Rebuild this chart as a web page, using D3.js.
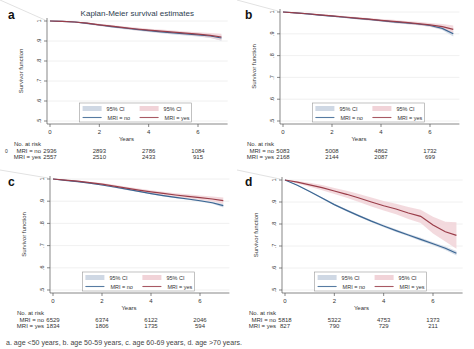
<!DOCTYPE html>
<html>
<head>
<meta charset="utf-8" />
<script src="https://cdn.jsdelivr.net/npm/d3@7"></script>
<style>
  body { margin: 0; background: #fff; }
  svg text { font-family: "Liberation Sans", Arial, sans-serif; fill: #333; }
</style>
</head>
<body>
<svg id="chart" width="474" height="349"></svg>
<script>
// ---- data ----
var years = [0, 0.5, 1, 1.5, 2, 2.5, 3, 3.5, 4, 4.5, 5, 5.5, 6, 6.5, 6.95];
var xTicks = [0, 2, 4, 6];
var yTicks = [1, .9, .8, .7, .6, .5];
var yTickLabels = ['1', '.9', '.8', '.7', '.6', '.5'];
var groups = ['MRI = no', 'MRI = yes'];
var panelNames = ['a', 'b', 'c', 'd'];

var survNoA  = [1, .998, .995, .988, .980, .972, .965, .958, .952, .946, .941, .936, .931, .925, .915];
var survYesA = [1, .998, .995, .989, .981, .974, .967, .960, .954, .949, .944, .939, .934, .928, .920];
var ciNoA    = [0, .002, .003, .004, .005, .005, .006, .006, .007, .007, .008, .008, .009, .010, .014];
var ciYesA   = [0, .002, .003, .004, .005, .006, .006, .007, .007, .008, .008, .009, .010, .012, .016];

var survNoB  = [1, .996, .991, .986, .981, .976, .971, .966, .960, .955, .950, .945, .938, .925, .900];
var survYesB = [1, .996, .992, .987, .982, .977, .972, .967, .962, .957, .952, .947, .941, .933, .920];
var ciNoB    = [0, .001, .002, .002, .003, .003, .004, .004, .004, .005, .005, .005, .006, .008, .012];
var ciYesB   = [0, .002, .003, .004, .004, .005, .005, .006, .006, .007, .007, .008, .009, .012, .018];

var survNoC  = [1, .994, .988, .981, .973, .964, .954, .944, .934, .925, .917, .910, .902, .893, .880];
var survYesC = [1, .995, .990, .984, .977, .968, .959, .950, .942, .935, .928, .922, .916, .910, .903];
var ciNoC    = [0, .001, .002, .002, .002, .003, .003, .003, .003, .004, .004, .004, .004, .005, .008];
var ciYesC   = [0, .002, .003, .004, .005, .006, .006, .007, .007, .008, .008, .009, .010, .011, .014];

var survNoD  = [1, .976, .948, .918, .888, .862, .837, .813, .791, .770, .750, .730, .710, .690, .667];
var survYesD = [1, .990, .978, .965, .950, .935, .918, .900, .883, .868, .850, .835, .795, .765, .748];
var ciNoD    = [0, .002, .003, .004, .004, .005, .005, .005, .006, .006, .006, .007, .007, .008, .010];
var ciYesD   = [0, .006, .009, .012, .014, .016, .018, .020, .022, .024, .027, .030, .038, .045, .060];

var riskNoA = [2936, 2893, 2786, 1084], riskYesA = [2557, 2510, 2433, 915];
var riskNoB = [5083, 5008, 4862, 1732], riskYesB = [2168, 2144, 2087, 699];
var riskNoC = [6529, 6374, 6122, 2046], riskYesC = [1834, 1806, 1735, 594];
var riskNoD = [5818, 5322, 4753, 1373], riskYesD = [827, 790, 729, 211];

var caption = 'a. age <50 years, b. age 50-59 years, c. age 60-69 years, d. age >70 years.';

// ---- layout ----
var panels = [
  {name: 'a', no: survNoA, yes: survYesA, ciNo: ciNoA, ciYes: ciYesA, rNo: riskNoA, rYes: riskYesA,
   x0: 50, x6: 198, y1: 21, y5: 121, ox: 0, oy: 0, title: true},
  {name: 'b', no: survNoB, yes: survYesB, ciNo: ciNoB, ciYes: ciYesB, rNo: riskNoB, rYes: riskYesB,
   x0: 283, x6: 430, y1: 12, y5: 121, ox: 237, oy: 0},
  {name: 'c', no: survNoC, yes: survYesC, ciNo: ciNoC, ciYes: ciYesC, rNo: riskNoC, rYes: riskYesC,
   x0: 53, x6: 200, y1: 179, y5: 290, ox: 0, oy: 170},
  {name: 'd', no: survNoD, yes: survYesD, ciNo: ciNoD, ciYes: ciYesD, rNo: riskNoD, rYes: riskYesD,
   x0: 285, x6: 433, y1: 180, y5: 290, ox: 237, oy: 170}
];

var navy = '#3a6592', maroon = '#9a3d49';
var ciBlue = '#cfd8e4', ciPink = '#f1d3d8';

var svg = d3.select('#chart');

panels.forEach(function(p) {
  var x = d3.scaleLinear().domain([0, 6]).range([p.x0, p.x6]);
  var y = d3.scaleLinear().domain([.5, 1]).range([p.y5, p.y1]);
  var axisX = p.x0 - 3, axisY = p.y5 + 3, right = x(7.2), top = p.y1 - 3;
  var g = svg.append('g');

  // faint frame edge of the pasted panel
  g.append('line').attr('x1', p.ox).attr('y1', p.oy).attr('x2', axisX - 2).attr('y2', top + 2)
    .attr('stroke', '#e2e2e2').attr('stroke-width', 1);

  // gridlines
  g.selectAll('.grid').data(yTicks).enter().append('line')
    .attr('x1', axisX).attr('x2', right)
    .attr('y1', function(d) { return y(d); }).attr('y2', function(d) { return y(d); })
    .attr('stroke', '#ececec').attr('stroke-width', 0.8);

  var rowsNo = years.map(function(t, i) { return {t: t, s: p.no[i], c: p.ciNo[i]}; });
  var rowsYes = years.map(function(t, i) { return {t: t, s: p.yes[i], c: p.ciYes[i]}; });

  var band = d3.area().x(function(d) { return x(d.t); })
    .y0(function(d) { return y(d.s - d.c); }).y1(function(d) { return y(d.s + d.c); });
  var line = d3.line().x(function(d) { return x(d.t); }).y(function(d) { return y(d.s); });

  g.append('path').attr('d', band(rowsNo)).attr('fill', ciBlue).attr('opacity', 0.9);
  g.append('path').attr('d', band(rowsYes)).attr('fill', ciPink).attr('opacity', 0.85);
  g.append('path').attr('d', line(rowsNo)).attr('fill', 'none').attr('stroke', navy).attr('stroke-width', 1.2);
  g.append('path').attr('d', line(rowsYes)).attr('fill', 'none').attr('stroke', maroon).attr('stroke-width', 1.2);

  // axes
  g.append('line').attr('x1', axisX).attr('x2', axisX).attr('y1', top).attr('y2', axisY)
    .attr('stroke', '#555').attr('stroke-width', 0.7);
  g.append('line').attr('x1', axisX).attr('x2', right).attr('y1', axisY).attr('y2', axisY)
    .attr('stroke', '#555').attr('stroke-width', 0.7);

  g.selectAll('.yt').data(yTicks).enter().append('line')
    .attr('x1', axisX - 3).attr('x2', axisX)
    .attr('y1', function(d) { return y(d); }).attr('y2', function(d) { return y(d); })
    .attr('stroke', '#555').attr('stroke-width', 0.7);
  g.selectAll('.yl').data(yTicks).enter().append('text')
    .attr('transform', function(d) { return 'translate(' + (axisX - 6) + ',' + y(d) + ') rotate(-90)'; })
    .attr('text-anchor', 'middle').attr('font-size', 5.5)
    .text(function(d, i) { return yTickLabels[i]; });

  g.selectAll('.xt').data(xTicks).enter().append('line')
    .attr('x1', function(d) { return x(d); }).attr('x2', function(d) { return x(d); })
    .attr('y1', axisY).attr('y2', axisY + 3)
    .attr('stroke', '#555').attr('stroke-width', 0.7);
  g.selectAll('.xl').data(xTicks).enter().append('text')
    .attr('x', function(d) { return x(d); }).attr('y', axisY + 10)
    .attr('text-anchor', 'middle').attr('font-size', 6).text(function(d) { return d; });

  g.append('text').attr('x', x(3.1)).attr('y', axisY + 16.5)
    .attr('text-anchor', 'middle').attr('font-size', 6).text('Years');

  g.append('text')
    .attr('transform', 'translate(' + (axisX - 24) + ',' + ((p.y1 + p.y5) / 2) + ') rotate(-90)')
    .attr('text-anchor', 'middle').attr('font-size', 6).text('Survivor function');

  // risk table
  g.append('text').attr('x', p.x0 - 36).attr('y', axisY + 21.5).attr('font-size', 6).text('No. at risk');
  [p.rNo, p.rYes].forEach(function(r, k) {
    var ry = axisY + 28.5 + k * 6;
    g.append('text').attr('x', p.x0 - 9).attr('y', ry).attr('text-anchor', 'end')
      .attr('font-size', 6).text(groups[k]);
    g.selectAll('.risk' + k).data(r).enter().append('text')
      .attr('x', function(d, i) { return x(xTicks[i]); }).attr('y', ry)
      .attr('text-anchor', 'middle').attr('font-size', 6).text(function(d) { return d; });
  });
  if (p.title) {
    // stray stratum marker printed in front of the first row of panel a
    g.append('text').attr('x', p.ox + 5).attr('y', axisY + 28.5).attr('font-size', 5).text('0');
  }

  // legend
  var L = x(1.2), T = p.y5 - 18, W = 112, H = 19;
  g.append('rect').attr('x', L).attr('y', T).attr('width', W).attr('height', H)
    .attr('fill', '#fff').attr('stroke', '#999').attr('stroke-width', 0.6);
  [[ciBlue, navy, groups[0]], [ciPink, maroon, groups[1]]].forEach(function(e, k) {
    var lx = L + 3 + k * 57;
    g.append('rect').attr('x', lx).attr('y', T + 3).attr('width', 19).attr('height', 5).attr('fill', e[0]);
    g.append('text').attr('x', lx + 24).attr('y', T + 7.5).attr('font-size', 5.5).text('95% CI');
    g.append('line').attr('x1', lx).attr('x2', lx + 19).attr('y1', T + 14.5).attr('y2', T + 14.5)
      .attr('stroke', e[1]).attr('stroke-width', 1.1).attr('opacity', 0.85);
    g.append('text').attr('x', lx + 25).attr('y', T + 16.5).attr('font-size', 5.5).text(e[2]);
  });

  // panel letter
  g.append('text').attr('x', p.ox + 8).attr('y', p.y1 < 30 ? 19 : p.oy + 16)
    .attr('font-size', 12).attr('font-weight', 'bold').style('fill', '#111').text(p.name);

  if (p.title) {
    g.append('text').attr('x', (axisX + right) / 2).attr('y', 16)
      .attr('text-anchor', 'middle').attr('font-size', 8).style('fill', '#2e3e50')
      .text('Kaplan-Meier survival estimates');
  }
});

svg.append('text').attr('x', 6).attr('y', 345).attr('font-size', 7.4).style('fill', '#444')
  .attr('textLength', 236).attr('lengthAdjust', 'spacingAndGlyphs')
  .text(caption);
</script>
</body>
</html>
